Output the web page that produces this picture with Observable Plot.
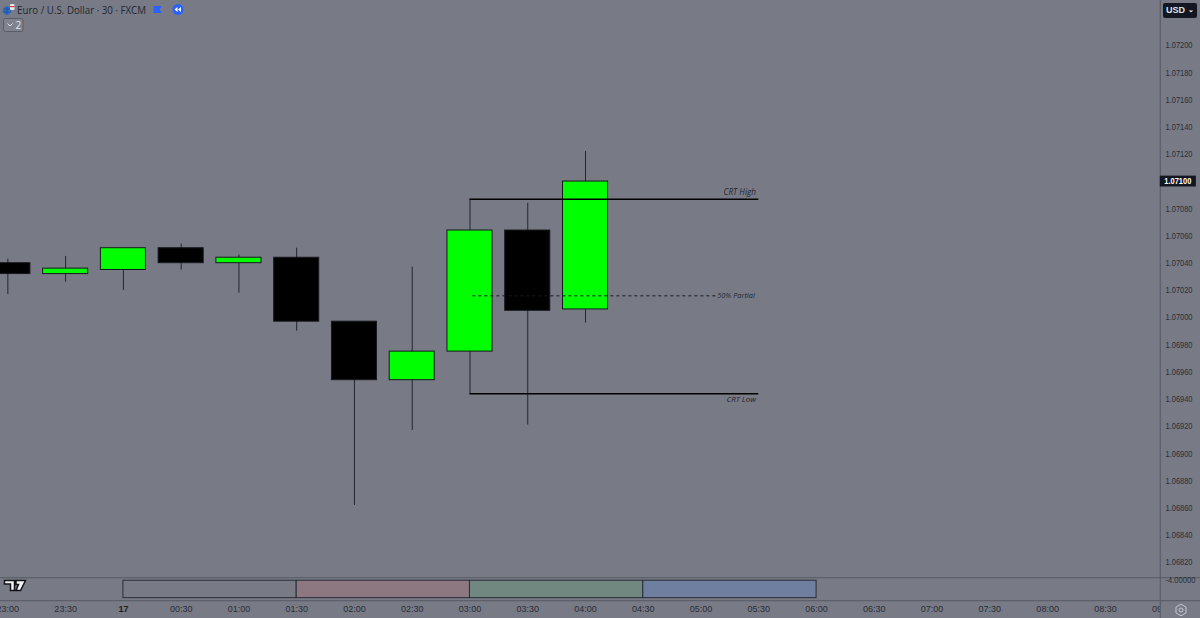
<!DOCTYPE html>
<html>
<head>
<meta charset="utf-8">
<script src="https://cdn.jsdelivr.net/npm/d3@7"></script>
<script src="https://cdn.jsdelivr.net/npm/@observablehq/plot@0.6"></script>
<style>
html,body{margin:0;padding:0;background:#787b86;overflow:hidden;width:1200px;height:618px}
#chart{position:absolute;left:0;top:0}
#chart svg{display:block;background:#787b86}
.ui{position:absolute;font-family:"Liberation Sans",sans-serif;white-space:nowrap}
</style>
</head>
<body>
<div id="chart"></div>
<svg class="ui" style="left:0;top:0" width="200" height="34">
  <text x="17" y="13.5" font-size="11.5" fill="#23262f" textLength="129" lengthAdjust="spacingAndGlyphs" font-family="Open Sans">Euro / U.S. Dollar · 30 · FXCM</text>
  <circle cx="7" cy="10.5" r="4.3" fill="#2f6fc4"/>
  <path d="M3.5 9h7M3.5 12h7M7 6.5v8" stroke="#1d4f96" stroke-width="0.7"/>
  <rect x="10" y="4" width="4.5" height="6" rx="1" fill="#e8e8f0"/>
  <rect x="10" y="6" width="4.5" height="1.2" fill="#d04040"/>
  <path d="M153.5 6h8.5l-2.5 3.5 2.5 3.5h-8.5z" fill="#2962ff"/>
  <circle cx="178" cy="9.5" r="5.5" fill="#2962ff"/>
  <path d="M177.5 7v5l-3-2.5zM181 7v5l-3-2.5z" fill="#fff"/>
  <rect x="3.5" y="18.5" width="19.5" height="13" rx="2" fill="#80838e" stroke="#5a5d68"/>
  <path d="M7.5 23.5l2.5 2.5 2.5-2.5" fill="none" stroke="#dfe1e8"/>
  <text x="15.5" y="28.5" font-size="10" fill="#e4e6ec" font-family="Open Sans">2</text>
</svg>
<div class="ui" style="left:1163px;top:3px;width:34px;height:15px;background:#131722;border-radius:2px;color:#dfe1e8;font-size:9px;font-weight:600;line-height:15px;text-indent:3px">USD<span style="position:absolute;right:3px;top:-1px;font-size:7px">⌄</span></div>
<svg class="ui" style="left:3px;top:579px" width="24" height="15">
  <path d="M1.5 1.5h10v10h-4v-6.5h-6zM13 1.5h9.5l-5 10h-4.5l2.5-6h-2.5z" fill="#f4f5f8" stroke="#111318" stroke-width="1.5"/>
</svg>
<svg class="ui" style="left:1173px;top:602px" width="16" height="16">
  <path d="M8 2.2l5 2.9v5.8l-5 2.9-5-2.9v-5.8z" fill="none" stroke="#c6c8d0"/>
  <circle cx="8" cy="8" r="2" fill="none" stroke="#c6c8d0"/>
</svg>
<script>
const barIndex = [-2,-1,0,1,2,3,4,5,6,7,8];
const bodyTop  = [1.07040,1.07036,1.07051,1.07051,1.07044,1.07044,1.06997,1.06975,1.07064,1.07064,1.07100];
const bodyBot  = [1.07032,1.07032,1.07035,1.07040,1.07040,1.06997,1.06954,1.06954,1.06975,1.07005,1.07006];
const highs    = [1.07043,1.07045,1.07051,1.07054,1.07046,1.07051,1.06997,1.07037,1.07087,1.07084,1.07122];
const lows     = [1.07017,1.07026,1.07020,1.07035,1.07018,1.06990,1.06862,1.06917,1.06944,1.06921,1.06996];
const isUp     = [false,true,true,false,true,false,false,true,true,false,true];

const priceTicks = [1.07200,1.07180,1.07160,1.07140,1.07120,1.07100,1.07080,1.07060,1.07040,1.07020,1.07000,1.06980,1.06960,1.06940,1.06920,1.06900,1.06880,1.06860,1.06840,1.06820];
const timeTicks  = [-2,-1,1,2,3,4,5,6,7,8,9,10,11,12,13,14,15,16,17,18];
const timeLabels = ["23:00","23:30","00:30","01:00","01:30","02:00","02:30","03:00","03:30","04:00","04:30","05:00","05:30","06:00","06:30","07:00","07:30","08:00","08:30","09:00"];

const levelNames  = ["CRT High","CRT Low"];
const levelPrices = [1.07087,1.06944];
const levelOffset = [-7,5.5];
const partialPrice = 1.07016;

const sessionStart = [0,3,6,9];
const sessionEnd   = [3,6,9,12];
const sessionFill  = ["#787b86","#8d7780","#70887f","#6f7f9f"];

const paneDividers = [1.068088,1.067919];
const paneBand = [1.068066,1.067938];
const paneTick = 1.068074;

const candles = barIndex.map((x,i)=>({x,top:bodyTop[i],bot:bodyBot[i],hi:highs[i],lo:lows[i],up:isUp[i]}));
const sessions = sessionStart.map((s,i)=>({s,e:sessionEnd[i],fill:sessionFill[i]}));
const half = 0.39;
const font = '"Liberation Sans",sans-serif';
const axisInk = "#2a2d36";

const chart = Plot.plot({
  width:1200,height:618,
  marginLeft:0,marginRight:40,marginTop:0,marginBottom:18,
  x:{domain:[0,17],range:[122.9,1104.9],axis:null},
  y:{domain:[1.06820,1.07200],range:[562,45],axis:null},
  style:{background:"#787b86",fontFamily:font,fontSize:"9px",overflow:"visible"},
  marks:[
    Plot.ruleX(candles,{x:"x",y1:"lo",y2:"hi",stroke:"#24262d",strokeWidth:1}),
    Plot.rect(candles,{x1:d=>d.x-half,x2:d=>d.x+half,y1:"bot",y2:"top",fill:d=>d.up?"#00ff00":"#000000",stroke:"#17191f",strokeWidth:1}),
    Plot.ruleY(levelPrices,{x1:6,x2:11,stroke:"#000000",strokeWidth:1.6}),
    Plot.ruleY([partialPrice],{x1:6.05,x2:10.27,stroke:"#17191f",strokeWidth:1,strokeDasharray:"3 3"}),
    Plot.text([levelNames[0]],{x:()=>10.95,y:()=>levelPrices[0],dy:levelOffset[0],textAnchor:"end",fontStyle:"italic",fontSize:8.2,fill:"#23262f",fontFamily:"Open Sans"}),
    Plot.text([levelNames[1]],{x:()=>10.95,y:()=>levelPrices[1],dy:levelOffset[1],textAnchor:"end",fontStyle:"italic",fontSize:8,fill:"#23262f",fontFamily:"Open Sans"}),
    Plot.text(["50% Partial"],{x:()=>10.93,y:()=>partialPrice,textAnchor:"end",fontStyle:"italic",fontSize:7.4,fill:"#23262f",fontFamily:"Open Sans"}),
    Plot.ruleY(paneDividers,{x1:-3,x2:19,stroke:"#565963",strokeWidth:1}),
    Plot.rect(sessions,{x1:"s",x2:"e",y1:()=>paneBand[1],y2:()=>paneBand[0],fill:"fill",stroke:"#2a2d36",strokeWidth:1}),
    Plot.axisX({ticks:timeTicks,tickFormat:d=>timeLabels[timeTicks.indexOf(d)],anchor:"bottom",tickSize:0,tickPadding:5,fill:axisInk,label:null}),
    Plot.axisX({ticks:[0],tickFormat:()=>"17",anchor:"bottom",tickSize:0,tickPadding:5,fill:"#1c1e26",fontWeight:"bold",label:null}),
    Plot.rect([0],{x1:()=>17.95,x2:()=>19,y1:()=>1.0675,y2:()=>1.0736,fill:"#787b86"}),
    Plot.ruleX([17.95],{y1:1.0675,y2:1.0736,stroke:"#565963",strokeWidth:1}),
    Plot.ruleY(paneDividers,{x1:17.95,x2:19,stroke:"#565963",strokeWidth:1}),
    Plot.axisY({ticks:priceTicks,tickFormat:d=>d.toFixed(5),anchor:"right",tickSize:0,tickPadding:5,fill:axisInk,label:null,className:"price-ticks"}),
    Plot.axisY({ticks:[paneTick],tickFormat:()=>"-4.00000",anchor:"right",tickSize:0,tickPadding:5,fill:axisInk,label:null,className:"pane-tick"}),
    Plot.rect([0],{x1:()=>17.95,x2:()=>18.575,y1:()=>1.07096,y2:()=>1.07104,fill:"#131722"}),
    Plot.text([1.07100],{x:()=>18.02,y:d=>d,text:d=>d.toFixed(5),textAnchor:"start",fill:"#ffffff",fontWeight:"bold",fontSize:9,className:"price-last"})
  ]
});
d3.select(chart).selectAll(".price-ticks text,.price-last text").attr("textLength",27).attr("lengthAdjust","spacingAndGlyphs");
d3.select(chart).selectAll(".pane-tick text").attr("textLength",30).attr("lengthAdjust","spacingAndGlyphs");
document.getElementById("chart").appendChild(chart);
</script>
</body>
</html>
